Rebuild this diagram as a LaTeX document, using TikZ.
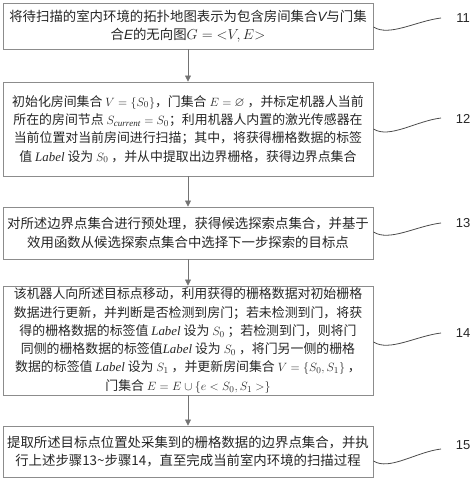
\documentclass[tikz,border=0pt]{standalone}
\usepackage{fontspec}
\setmainfont{Liberation Serif}
\newfontfamily\cjk{Noto Sans CJK SC}
\newfontfamily\ars{Liberation Sans}
\newfontfamily\tms{Liberation Serif}
\usepackage{amssymb}
\usetikzlibrary{arrows.meta}
\newcommand{\lbl}{{\tms\itshape Label}}
\begin{document}
\begin{tikzpicture}[x=1pt,y=-1pt,
  boxx/.style={draw=black!45,line width=0.9pt,minimum width=370pt,inner sep=0pt,
    align=center,font=\cjk\fontsize{13.4}{18.3}\selectfont,text=black!85},
  dense/.style={font=\cjk\fontsize{12.9}{18.3}\selectfont},
  flow/.style={draw=black!55,line width=0.7pt,-{Triangle[length=6pt,width=6pt]}},
  lead/.style={draw=black!70,line width=0.8pt},
  num/.style={font=\ars\fontsize{13}{15}\selectfont,text=black!85,inner sep=1pt}]
\useasboundingbox (0,0) rectangle (474,479);
\node[boxx,minimum height=46pt] (b1) at (188,26) {将待扫描的室内环境的拓扑地图表示为包含房间集合{\ars\itshape V}与门集\\合{\ars\itshape E}的无向图$G={<}V,E{>}$};
\node[boxx,dense,minimum height=94pt] (b2) at (188,129) {初始化房间集合 $V=\{S_0\}$，门集合 $E=\varnothing$ ，并标定机器人当前\\所在的房间节点 $S_{\mathit{current}}=S_0$；利用机器人内置的激光传感器在\\当前位置对当前房间进行扫描；其中，将获得栅格数据的标签\\值 \lbl{} 设为 $S_0$ ，并从中提取出边界栅格，获得边界点集合};
\node[boxx,minimum height=52pt] (b3) at (188,233) {对所述边界点集合进行预处理，获得候选探索点集合，并基于\\效用函数从候选探索点集合中选择下一步探索的目标点};
\node[boxx,dense,minimum height=109pt] (b4) at (188,340.5) {该机器人向所述目标点移动，利用获得的栅格数据对初始栅格\\数据进行更新，并判断是否检测到房门；若未检测到门，将获\\得的栅格数据的标签值 \lbl{} 设为 $S_0$ ；若检测到门，则将门\\同侧的栅格数据的标签值\lbl{} 设为 $S_0$ ，将门另一侧的栅格\\数据的标签值 \lbl{} 设为 $S_1$ ，并更新房间集合 $V=\{S_0,S_1\}$ ，\\门集合 $E=E\cup\{e<S_0,S_1>\}$};
\node[boxx,minimum height=51pt] (b5) at (188,451.5) {提取所述目标点位置处采集到的栅格数据的边界点集合，并执\\行上述步骤13\textasciitilde 步骤14，直至完成当前室内环境的扫描过程};
\draw[flow] (b1) -- (b2);
\draw[flow] (b2) -- (b3);
\draw[flow] (b3) -- (b4);
\draw[flow] (b4) -- (b5);
\node[num] (n1) at (463,18) {11};
\node[num] (n2) at (463,119) {12};
\node[num] (n3) at (463,223) {13};
\node[num] (n4) at (463,333) {14};
\node[num] (n5) at (463,445) {15};
\coordinate (e1) at (441,18);
\coordinate (e2) at (441,118);
\coordinate (e3) at (441,223);
\coordinate (e4) at (441,333);
\coordinate (e5) at (441,449);
\draw[lead] ([yshift=-1pt]b1.east) .. controls +(16,10) and +(-25,3) .. (e1);
\draw[lead] ([yshift=0pt]b2.east) .. controls +(16,10) and +(-25,3) .. (e2);
\draw[lead] ([yshift=1pt]b3.east) .. controls +(16,10) and +(-25,3) .. (e3);
\draw[lead] ([yshift=-1.5pt]b4.east) .. controls +(16,10) and +(-25,3) .. (e4);
\draw[lead] ([yshift=-9.5pt]b5.east) .. controls +(16,10) and +(-25,3) .. (e5);
\end{tikzpicture}
\end{document}
